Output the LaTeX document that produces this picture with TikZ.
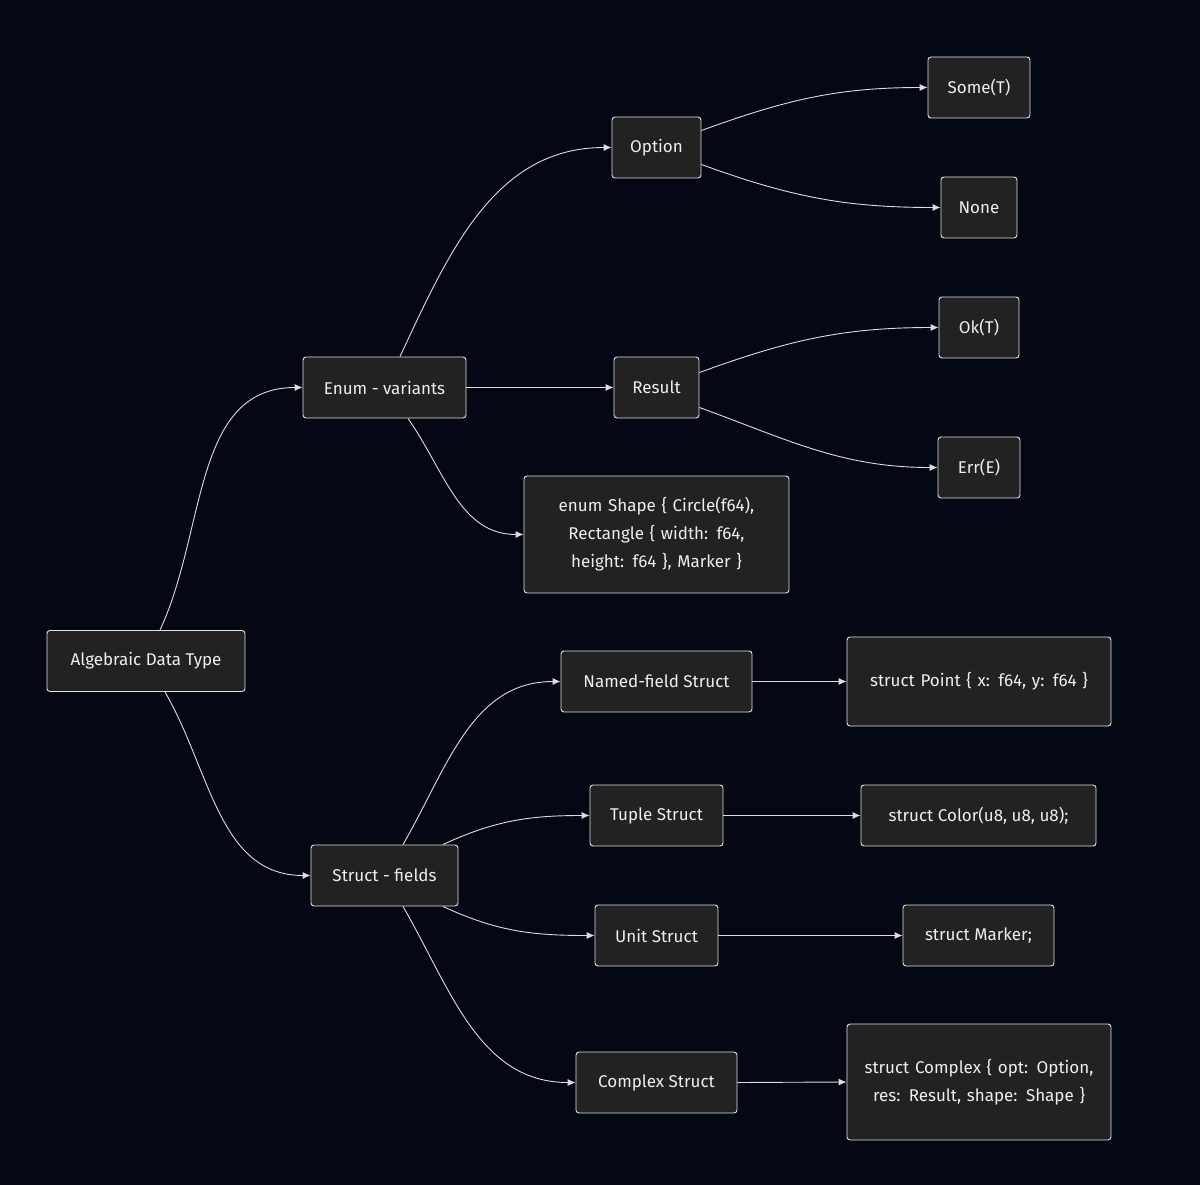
\documentclass[tikz,border=0pt]{standalone}
\usepackage{fontspec}
\setmainfont{Fira Sans}
\usetikzlibrary{arrows.meta,calc}
\definecolor{bg}{HTML}{040815}
\definecolor{nodefill}{HTML}{222222}
\definecolor{edge}{HTML}{DDDDDD}
\definecolor{txt}{HTML}{EEEEEE}
\begin{document}
\begin{tikzpicture}[x=1pt,y=-1pt,
  box/.style={draw=edge!85,fill=nodefill,rounded corners=3pt,line width=0.9pt,text=txt,
    font=\fontsize{17}{28}\selectfont,inner sep=0pt,anchor=center,align=center},
  conn/.style={draw=edge,line width=0.9pt,-{Latex[length=8pt,width=7pt]}}]
\fill[bg] (0,0) rectangle (1200,1185);
\useasboundingbox (0,0) rectangle (1200,1185);
\newcommand{\bx}[6]{\node[box,minimum width=#4,minimum height=#5] (#1) at (#2,#3) {#6};}
\bx{adt}{146}{661}{198}{61}{Algebraic Data Type}
\bx{enum}{384.5}{387.5}{163}{61}{Enum - variants}
\bx{struct}{384.5}{875.5}{147}{61}{Struct - fields}
\bx{option}{656.5}{147.5}{89}{61}{Option}
\bx{result}{656.5}{387.5}{85}{61}{Result}
\node[box,minimum width=265,minimum height=117,text width=240] (shape) at (656.5,534.5) {enum Shape \{ Circle(f64), Rectangle \{ width: f64, height: f64 \}, Marker \}};
\bx{some}{979}{87.5}{102}{61}{Some(T)}
\bx{none}{979}{207.5}{76}{61}{None}
\bx{ok}{979}{327.5}{80}{61}{Ok(T)}
\bx{err}{979}{467.5}{82}{61}{Err(E)}
\bx{named}{656.5}{681.5}{191}{61}{Named-field Struct}
\bx{tuple}{656.5}{815.5}{133}{61}{Tuple Struct}
\bx{unit}{656.5}{935.5}{123}{61}{Unit Struct}
\bx{complex}{656.5}{1082.5}{161}{61}{Complex Struct}
\node[box,minimum width=264,minimum height=89,text width=240] (point) at (979,681.5) {struct Point \{ x: f64, y: f64 \}};
\bx{color}{978.5}{815.5}{235}{61}{struct Color(u8, u8, u8);}
\bx{marker}{978.5}{935.5}{151}{61}{struct Marker;}
\node[box,minimum width=264,minimum height=116,text width=240] (cdef) at (979,1082) {struct Complex \{ opt: Option, res: Result, shape: Shape \}};

\draw[conn] ($(adt.north)+(14,0)$) to[out=65,in=180] (enum.west);
\draw[conn] ($(adt.south)+(19,0)$) to[out=-60,in=180] (struct.west);
\draw[conn] ($(enum.north)+(15.5,0)$) to[out=65,in=180] (option.west);
\draw[conn] (enum.east) -- (result.west);
\draw[conn] ($(enum.south)+(23.5,0)$) to[out=-55,in=180] (shape.west);
\draw[conn] ($(option.east)+(0,-17)$) to[out=20,in=180] (some.west);
\draw[conn] ($(option.east)+(0,17)$) to[out=-20,in=180] (none.west);
\draw[conn] ($(result.east)+(0,-15)$) to[out=20,in=180] (ok.west);
\draw[conn] ($(result.east)+(0,20)$) to[out=-20,in=180] (err.west);
\draw[conn] ($(struct.north)+(18.5,0)$) to[out=60,in=180] (named.west);
\draw[conn] ($(struct.north)+(58.5,0)$) to[out=25,in=180] (tuple.west);
\draw[conn] ($(struct.south)+(58.5,0)$) to[out=-25,in=180] (unit.west);
\draw[conn] ($(struct.south)+(18.5,0)$) to[out=-60,in=180] (complex.west);
\draw[conn] (named.east) -- (point.west);
\draw[conn] (tuple.east) -- (color.west);
\draw[conn] (unit.east) -- (marker.west);
\draw[conn] (complex.east) -- (cdef.west);
\end{tikzpicture}
\end{document}
